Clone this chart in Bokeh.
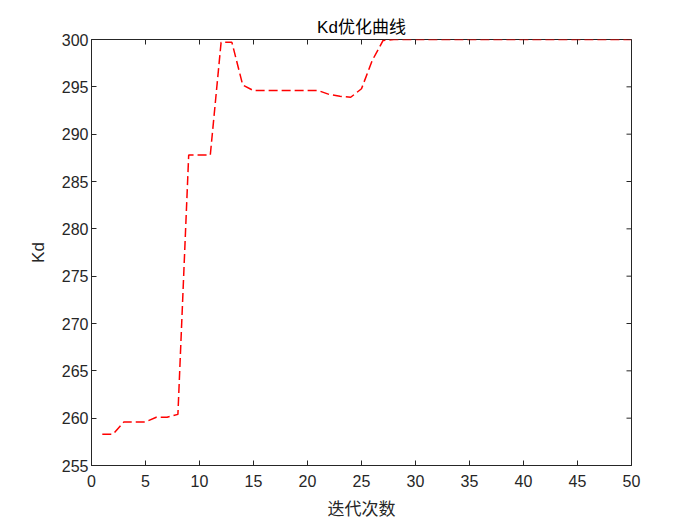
import math
from bokeh.plotting import figure
from bokeh.models import Range1d, FixedTicker
from bokeh.embed import file_html
from bokeh.resources import INLINE

iterations = list(range(1, 51))
kd_values = [258.3, 258.3, 259.6, 259.6, 259.6, 260.1, 260.1, 260.4, 287.8, 287.8,
             287.8, 299.7, 299.7, 295.2, 294.6, 294.6, 294.6, 294.6, 294.6, 294.6,
             294.6, 294.2, 294.0, 293.9, 294.8, 297.8, 299.9, 300.0, 300.0, 300.0,
             300.0, 300.0, 300.0, 300.0, 300.0, 300.0, 300.0, 300.0, 300.0, 300.0,
             300.0, 300.0, 300.0, 300.0, 300.0, 300.0, 300.0, 300.0, 300.0, 300.0]
x_ticks = [0, 5, 10, 15, 20, 25, 30, 35, 40, 45, 50]
y_ticks = [255, 260, 265, 270, 275, 280, 285, 290, 295, 300]
x_min, x_max = 0, 50
y_min, y_max = 255, 300
title_text = "Kd优化曲线"
x_label = "迭代次数"
y_label = "Kd"

FONT = "'Liberation Sans', 'Noto Sans CJK SC', sans-serif"
AX = "#262626"

p = figure(width=696, height=521, output_backend="svg", toolbar_location=None,
           x_range=Range1d(x_min, x_max), y_range=Range1d(y_min, y_max),
           min_border_left=91, min_border_right=65, min_border_top=39, min_border_bottom=55)
p.title.text = title_text
p.title.align = "center"
p.title.text_font = FONT
p.title.text_font_size = "17px"
p.title.text_font_style = "normal"
p.title.text_color = "#000000"
p.title.standoff = 6

p.line(iterations, kd_values, line_color="#ff0000", line_width=1.5, line_dash="9 4")

# inward ticks on the top and right edges (clipped to the frame)
p.scatter(x=x_ticks, y=[y_max] * len(x_ticks), marker="dash", size=10,
          angle=math.pi / 2, line_color=AX, line_width=1)
p.scatter(x=[x_max] * len(y_ticks), y=y_ticks, marker="dash", size=10,
          angle=0, line_color=AX, line_width=1)

p.xgrid.visible = False
p.ygrid.visible = False
p.outline_line_color = AX
p.outline_line_width = 1

def style(ax, ticks):
    ax.ticker = FixedTicker(ticks=ticks)
    ax.axis_line_color = AX
    ax.major_tick_line_color = AX
    ax.major_tick_in = 5
    ax.major_tick_out = 0
    ax.minor_tick_line_color = None
    ax.major_label_text_font = FONT
    ax.major_label_text_font_size = "16px"
    ax.major_label_text_color = AX
    ax.axis_label_text_font = FONT
    ax.axis_label_text_font_size = "17px"
    ax.axis_label_text_font_style = "normal"
    ax.axis_label_text_color = AX

style(p.xaxis[0], x_ticks)
style(p.yaxis[0], y_ticks)
p.xaxis[0].axis_label = x_label
p.yaxis[0].axis_label = y_label
p.xaxis[0].major_label_standoff = 9
p.yaxis[0].major_label_standoff = 3
p.xaxis[0].axis_label_standoff = 10
p.yaxis[0].axis_label_standoff = 11

open("out.html", "w").write(file_html(p, INLINE))
